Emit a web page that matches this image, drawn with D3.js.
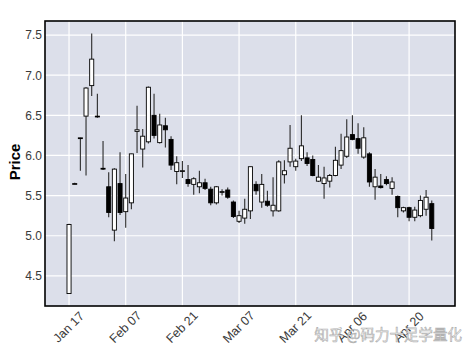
<!DOCTYPE html>
<html>
<head>
<meta charset="utf-8">
<script src="https://cdn.jsdelivr.net/npm/d3@7"></script>
<style>
  html, body { margin: 0; padding: 0; background: #fff; }
  svg { display: block; }
</style>
</head>
<body>
<svg id="chart" width="474" height="355"></svg>
<script>
// ---- data (trading-day index based, like mplfinance) ----
const opens  = [4.28,5.65,6.21,6.49,6.87,6.49,5.84,5.61,5.07,5.65,5.30,5.41,6.30,6.08,6.17,6.50,6.16,6.37,6.20,5.80,
                5.80,5.70,5.64,5.61,5.66,5.58,5.41,5.54,5.57,5.42,5.18,5.22,5.31,5.64,5.42,5.43,5.31,5.31,5.76,5.92,
                5.86,5.96,5.97,5.95,5.68,5.65,5.68,5.75,5.88,5.99,6.26,6.21,5.98,6.02,5.61,5.62,5.70,5.59,5.49,5.31,
                5.35,5.23,5.25,5.33,5.40];
const highs  = [5.15,5.66,6.22,6.85,7.52,6.77,6.18,5.79,5.84,6.04,5.77,6.02,6.62,6.33,6.86,6.77,6.52,6.47,6.24,5.99,
                5.93,5.88,5.73,5.81,5.71,5.61,5.62,5.58,5.60,5.44,5.31,5.46,5.86,5.68,5.77,5.56,5.73,5.94,5.94,6.38,
                5.96,6.50,6.04,6.00,5.88,5.86,5.77,6.11,6.27,6.45,6.50,6.40,6.35,6.04,5.83,5.77,5.74,5.73,5.50,5.36,
                5.36,5.36,5.50,5.57,5.44];
const lows   = [4.28,5.64,5.81,5.75,6.74,6.47,5.82,5.23,4.93,5.26,5.10,5.33,6.03,5.85,6.15,6.21,6.15,6.10,5.82,5.64,
                5.72,5.61,5.51,5.53,5.57,5.38,5.39,5.50,5.46,5.22,5.16,5.15,5.21,5.51,5.35,5.36,5.24,5.30,5.65,5.86,
                5.81,5.93,5.87,5.74,5.67,5.46,5.60,5.74,5.83,5.97,6.19,6.02,5.96,5.61,5.45,5.59,5.63,5.51,5.23,5.29,
                5.18,5.18,5.23,5.25,4.94];
const closes = [5.14,5.65,6.22,6.84,7.20,6.48,5.83,5.29,5.83,5.29,5.47,6.02,6.32,6.24,6.85,6.25,6.38,6.32,5.88,5.91,
                5.81,5.65,5.71,5.66,5.59,5.41,5.61,5.55,5.48,5.24,5.25,5.33,5.86,5.56,5.64,5.38,5.38,5.92,5.81,6.09,
                5.93,6.12,5.90,5.75,5.73,5.72,5.75,5.94,6.06,6.23,6.20,6.09,6.22,5.67,5.73,5.60,5.65,5.67,5.35,5.35,
                5.23,5.32,5.44,5.48,5.09];
const xTickIdx    = [0, 10, 20, 30, 40, 50, 60];
const xTickLabels = ["Jan 17", "Feb 07", "Feb 21", "Mar 07", "Mar 21", "Apr 06", "Apr 20"];
const yTicks      = [4.5, 5.0, 5.5, 6.0, 6.5, 7.0, 7.5];
const yLabel      = "Price";
const watermark   = "知乎 @码力十足学量化";

// ---- layout ----
const svg = d3.select("#chart");
const L = 45, R = 455, T = 21, B = 306;
const font = "'Liberation Sans', Arial, sans-serif";

const x = d3.scaleLinear().domain([-4.24, 68.1]).range([L, R]);
const y = d3.scaleLinear().domain([4.125, 7.675]).range([B, T]);
const step = x(1) - x(0);
const bw = step * 0.72;

// plot background
svg.append("rect").attr("x", L).attr("y", T).attr("width", R - L).attr("height", B - T)
  .attr("fill", "#dcdfea");

// gridlines
const grid = svg.append("g");
grid.selectAll("line.h").data(yTicks).join("line")
  .attr("x1", L).attr("x2", R).attr("y1", d => y(d)).attr("y2", d => y(d))
  .attr("stroke", "#fff").attr("stroke-width", 1.2);
grid.selectAll("line.v").data(xTickIdx).join("line")
  .attr("y1", T).attr("y2", B).attr("x1", d => x(d)).attr("x2", d => x(d))
  .attr("stroke", "#fff").attr("stroke-width", 1.2);

// candles
const data = opens.map((o, i) => ({ i, o, h: highs[i], l: lows[i], c: closes[i] }));
const cg = svg.append("g");
cg.selectAll("line.wick").data(data).join("line")
  .attr("x1", d => x(d.i)).attr("x2", d => x(d.i))
  .attr("y1", d => y(d.h)).attr("y2", d => y(d.l))
  .attr("stroke", "#2a2a2a").attr("stroke-width", 1.1);
cg.selectAll("rect.body").data(data).join("rect")
  .attr("x", d => x(d.i) - bw / 2)
  .attr("width", bw)
  .attr("y", d => y(Math.max(d.o, d.c)))
  .attr("height", d => Math.max(0.8, Math.abs(y(d.o) - y(d.c))))
  .attr("fill", d => d.c >= d.o ? "#fff" : "#000")
  .attr("stroke", "#000").attr("stroke-width", 0.9);

// frame
svg.append("rect").attr("x", L).attr("y", T).attr("width", R - L).attr("height", B - T)
  .attr("fill", "none").attr("stroke", "#000").attr("stroke-width", 1.6);

// y tick labels
svg.selectAll("text.yt").data(yTicks).join("text")
  .attr("x", L - 3).attr("y", d => y(d)).attr("dy", "0.36em")
  .attr("text-anchor", "end").attr("font-family", font).attr("font-size", 12)
  .attr("fill", "#3a3a3a").text(d => d.toFixed(1));

// x tick labels (rotated 45)
svg.selectAll("text.xt").data(xTickIdx).join("text")
  .attr("transform", d => `translate(${x(d) - 0.5},${327}) rotate(-45)`)
  .attr("text-anchor", "middle").attr("dy", "0.35em")
  .attr("font-family", font).attr("font-size", 12.5).attr("fill", "#3a3a3a")
  .text((d, k) => xTickLabels[k]);

// y axis label
svg.append("text")
  .attr("transform", `translate(${20},${162}) rotate(-90)`)
  .attr("text-anchor", "middle")
  .attr("font-family", font).attr("font-size", 15).attr("font-weight", "bold")
  .attr("fill", "#000").text(yLabel);

// watermark
svg.append("text")
  .attr("x", 462).attr("y", 340).attr("text-anchor", "end")
  .attr("font-family", "'Noto Sans CJK SC', sans-serif").attr("font-size", 14.5)
  .attr("fill", "#fff").attr("fill-opacity", 0.85)
  .attr("stroke", "#a8a8a8").attr("stroke-width", 0.7).attr("stroke-opacity", 0.9)
  .text(watermark);
</script>
</body>
</html>
